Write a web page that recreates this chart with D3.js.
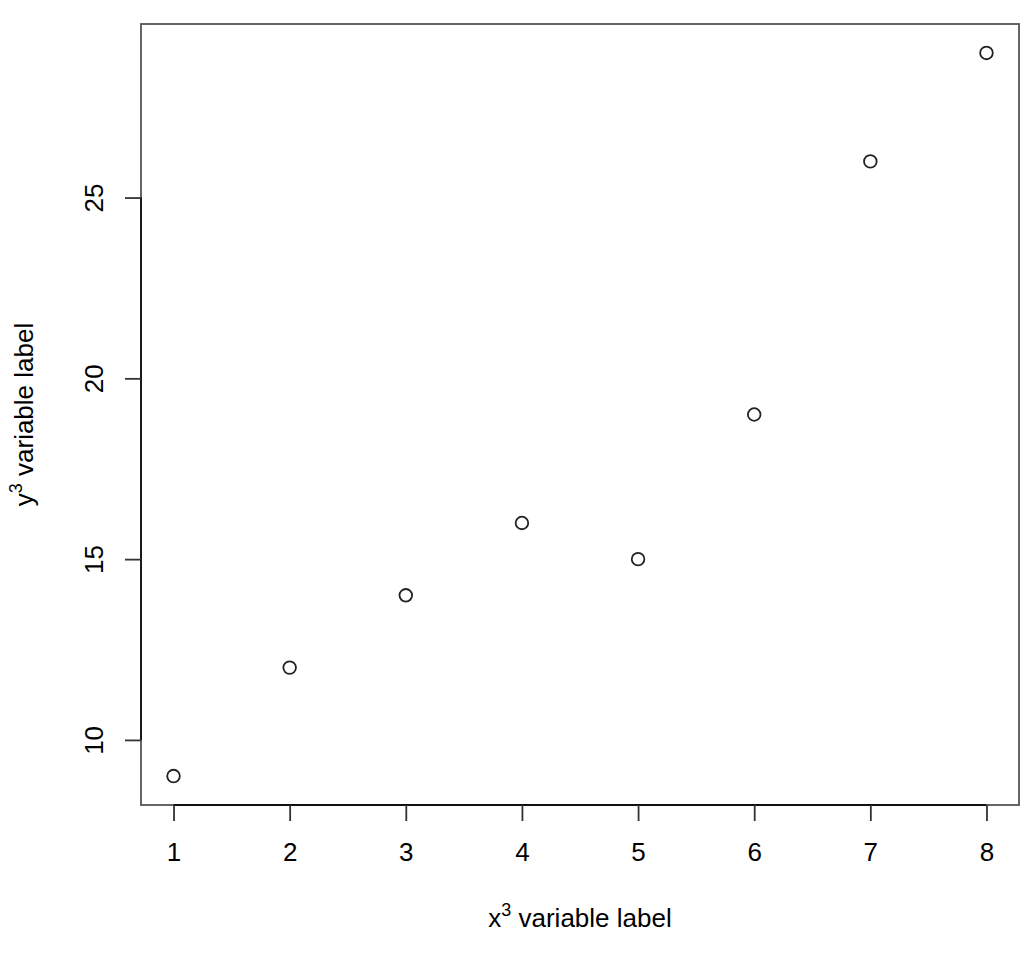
<!DOCTYPE html>
<html><head><meta charset="utf-8">
<script src="https://cdn.jsdelivr.net/npm/d3@7"></script>
<style>body{margin:0;background:#fff}svg{display:block}text{font-family:"Liberation Sans",Arial,sans-serif;fill:#000}</style>
</head><body>
<svg id="c" width="1033" height="960"></svg>
<script>
const xValues = [1, 2, 3, 4, 5, 6, 7, 8];
const yValues = [9, 12, 14, 16, 15, 19, 26, 29];
const xTicks = [1, 2, 3, 4, 5, 6, 7, 8];
const yTicks = [10, 15, 20, 25];

const FS = 26;
const svg = d3.select("#c");
const L = 141, R = 1019, T = 24, B = 805;
const xr = d3.extent(xValues), yr = d3.extent(yValues);
const xp = (xr[1]-xr[0])*0.04, yp = (yr[1]-yr[0])*0.04;
const x = d3.scaleLinear().domain([xr[0]-xp, xr[1]+xp]).range([L, R]);
const y = d3.scaleLinear().domain([yr[0]-yp, yr[1]+yp]).range([B, T]);

// box
svg.append("rect").attr("x", L).attr("y", T).attr("width", R-L).attr("height", B-T)
  .attr("fill","none").attr("stroke","#555").attr("stroke-width",1.8);

// x axis
const xa = svg.append("g").attr("transform", `translate(0,${B})`)
  .call(d3.axisBottom(x).tickValues(xTicks).tickSize(16).tickSizeOuter(0).tickPadding(22).tickFormat(d3.format("d")));
xa.select(".domain").attr("d", `M${x(xTicks[0])},0H${x(xTicks[xTicks.length-1])}`).attr("stroke","#111").attr("stroke-width",1.8);
xa.selectAll(".tick line").attr("stroke","#333").attr("stroke-width",1.8);
xa.selectAll("text").attr("font-size", FS).attr("font-family", '"Liberation Sans",Arial,sans-serif').attr("fill","#111");

// y axis
const ya = svg.append("g").attr("transform", `translate(${L},0)`)
  .call(d3.axisLeft(y).tickValues(yTicks).tickSize(16).tickSizeOuter(0).tickFormat(d3.format("d")));
ya.select(".domain").attr("d", `M0,${y(yTicks[0])}V${y(yTicks[yTicks.length-1])}`).attr("stroke","#111").attr("stroke-width",1.8);
ya.selectAll(".tick line").attr("stroke","#333").attr("stroke-width",1.8);
ya.selectAll(".tick text").attr("x", null).attr("dy", null)
  .attr("font-size", FS).attr("font-family", '"Liberation Sans",Arial,sans-serif').attr("fill","#111")
  .attr("text-anchor","middle")
  .attr("transform", "translate(-38,0) rotate(-90)");

// points
svg.append("g").selectAll("circle").data(xValues.map((d,i)=>[d, yValues[i]])).join("circle")
  .attr("cx", d=>x(d[0])).attr("cy", d=>y(d[1])).attr("r", 6.3)
  .attr("fill","none").attr("stroke","#222").attr("stroke-width",1.8);

// axis labels
const xl = svg.append("text").attr("x", (L+R)/2).attr("y", 927).attr("text-anchor","middle").attr("font-size",FS).attr("fill","#111");
xl.append("tspan").text("x");
xl.append("tspan").attr("dy",-11).attr("font-size",18).text("3");
xl.append("tspan").attr("dy",11).text(" variable label");

const yl = svg.append("text").attr("transform", `translate(33,${(T+B)/2}) rotate(-90)`).attr("text-anchor","middle").attr("font-size",FS).attr("fill","#111");
yl.append("tspan").text("y");
yl.append("tspan").attr("dy",-11).attr("font-size",18).text("3");
yl.append("tspan").attr("dy",11).text(" variable label");
</script>
</body></html>
